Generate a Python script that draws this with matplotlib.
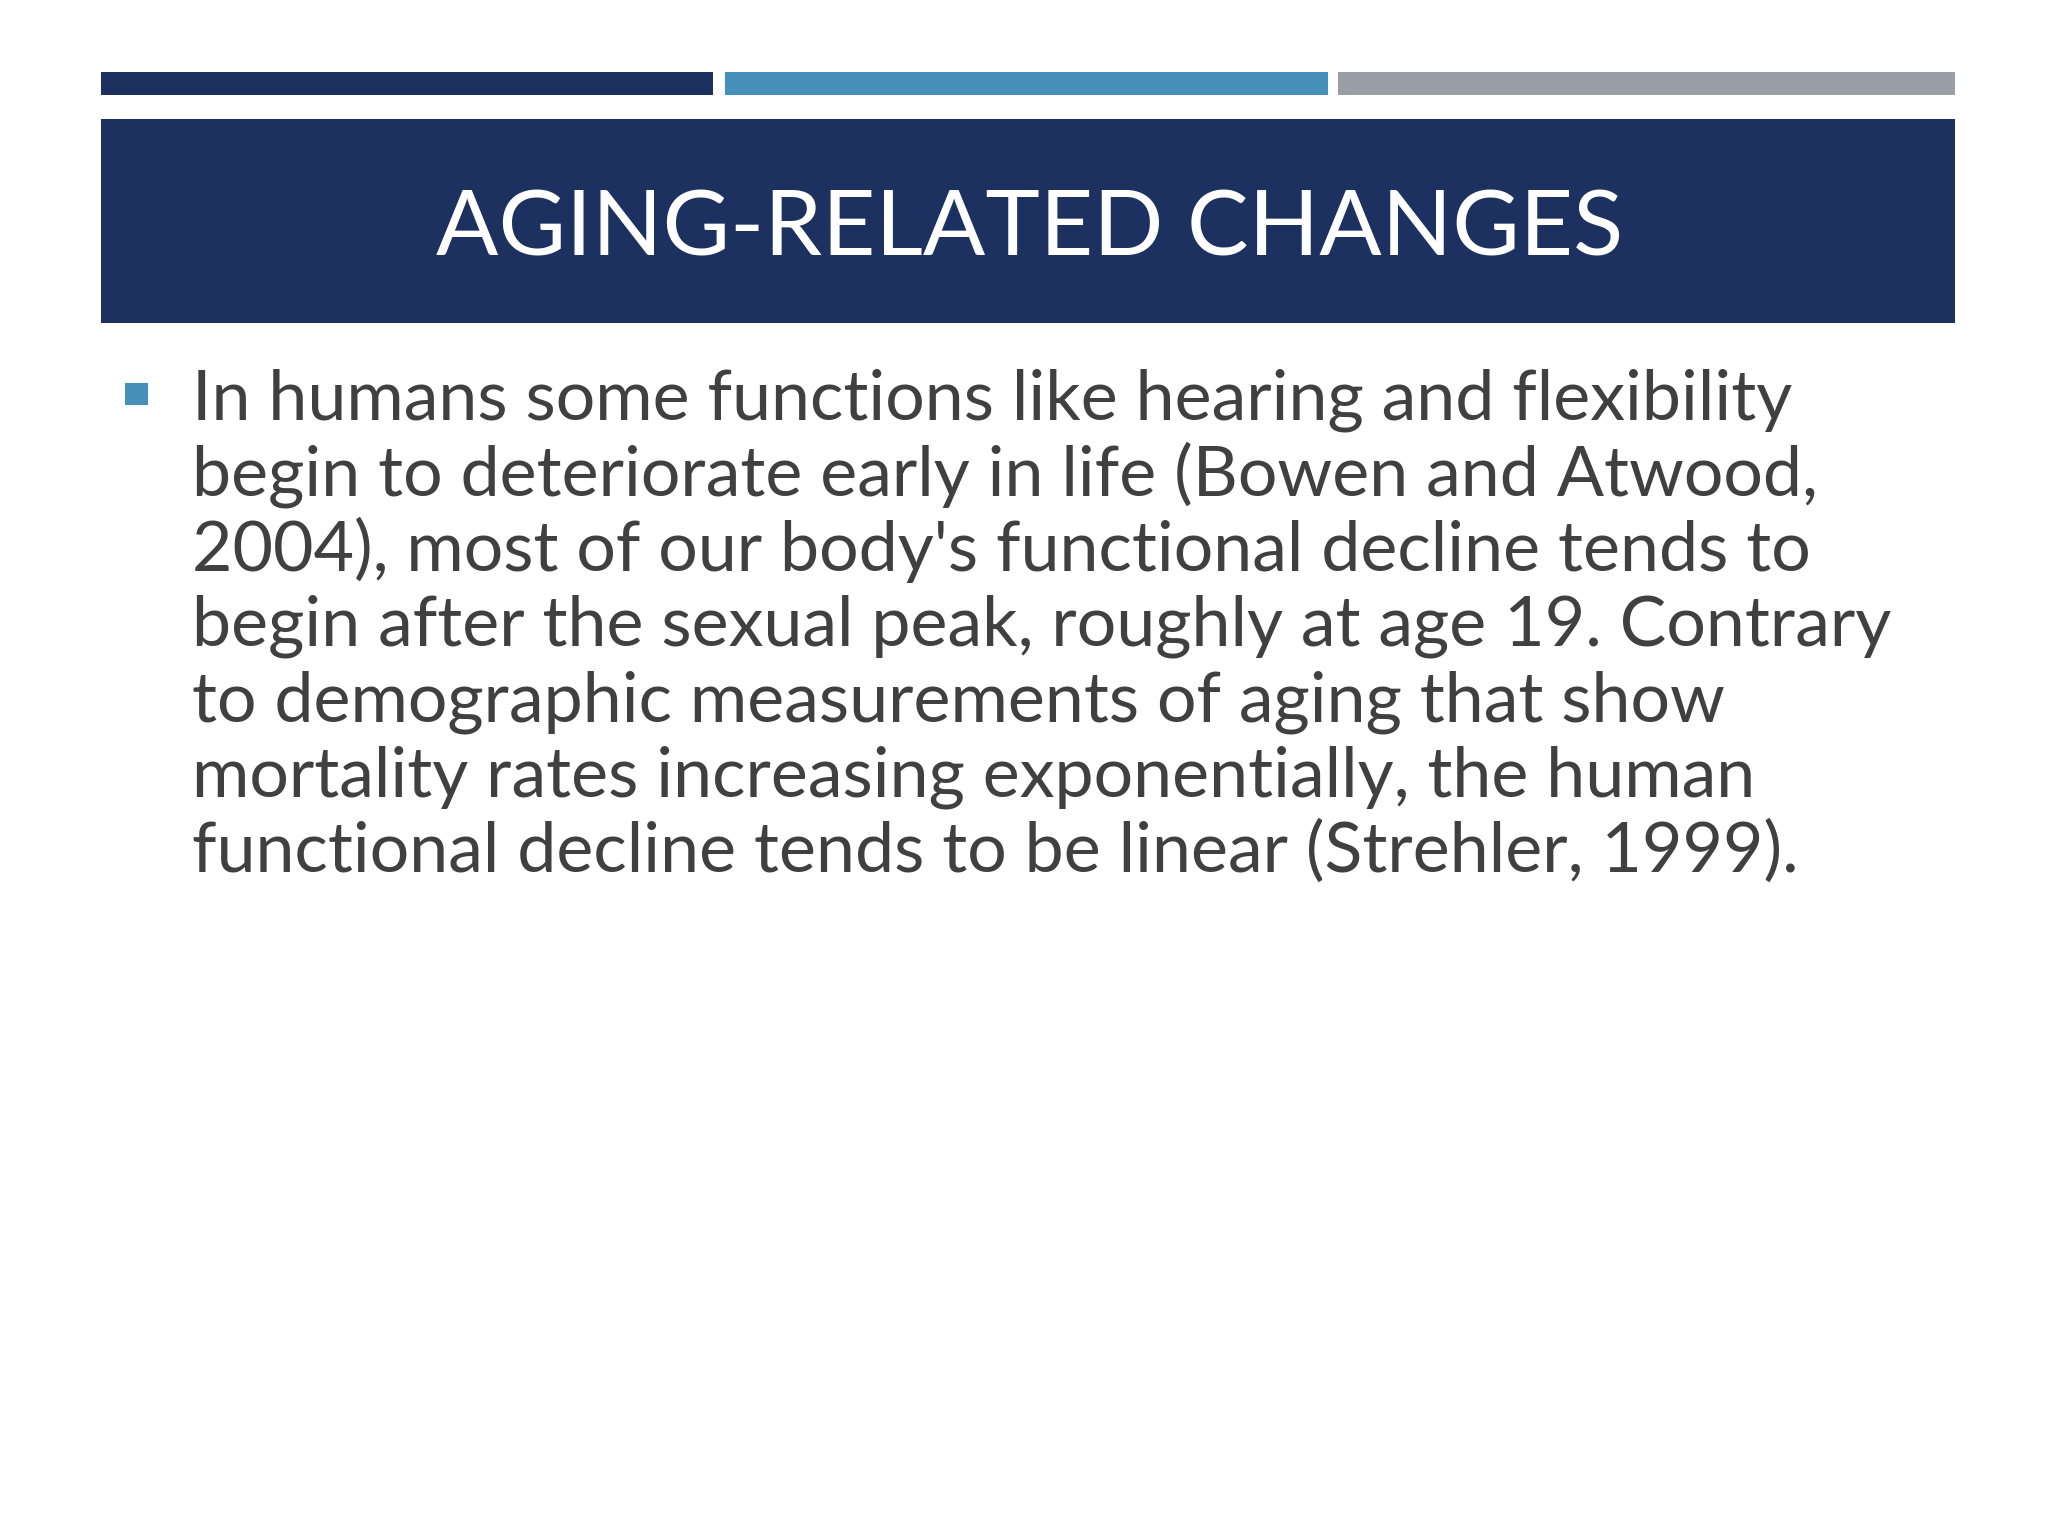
import matplotlib
matplotlib.use('Agg')
import matplotlib.pyplot as plt
from matplotlib.patches import Rectangle

# slide content
title = "AGING-RELATED CHANGES"
body_lines = [
    "In humans some functions like hearing and flexibility",
    "begin to deteriorate early in life (Bowen and Atwood,",
    "2004), most of our body's functional decline tends to",
    "begin after the sexual peak, roughly at age 19. Contrary",
    "to demographic measurements of aging that show",
    "mortality rates increasing exponentially, the human",
    "functional decline tends to be linear (Strehler, 1999).",
]

# top accent bars: (x0, x1)
bar_spans = [(101, 713), (725, 1328), (1338, 1955)]
bar_colors = ['#1c3160', '#4790bb', '#989fa6']

navy = '#1c3160'
text_color = '#404040'

fig = plt.figure(figsize=(20.48, 15.36), dpi=100, facecolor='white')
ax = fig.add_axes([0, 0, 1, 1])
ax.set_xlim(0, 2048)
ax.set_ylim(1536, 0)
ax.axis('off')

# accent bars
for (x0, x1), c in zip(bar_spans, bar_colors):
    ax.add_patch(Rectangle((x0, 72), x1 - x0, 23, color=c, lw=0))

# title box
ax.add_patch(Rectangle((101, 119), 1955 - 101, 204, color=navy, lw=0))
ax.text(1030, 256, title, color='white', fontsize=66.4, family='Lato',
        ha='center', va='baseline')

# bullet
ax.add_patch(Rectangle((125, 383), 23, 22, color='#4790bb', lw=0))

# body text
for i, line in enumerate(body_lines):
    ax.text(192, 420 + i * 75.3, line, color=text_color, fontsize=50.3,
            family='Lato', ha='left', va='baseline')

fig.savefig('out.png', dpi=100, facecolor='white')
